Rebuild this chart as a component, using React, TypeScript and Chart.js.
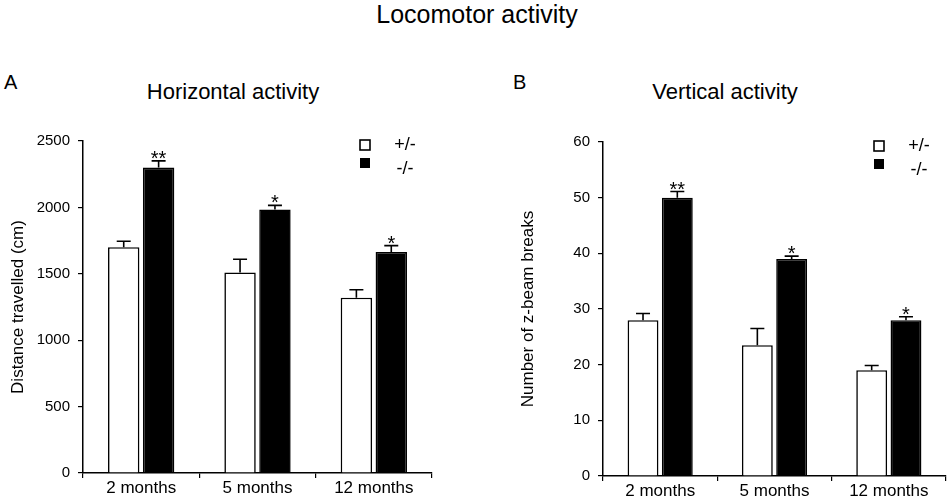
import React, { useEffect, useRef } from 'react';
import { Chart, registerables } from 'chart.js';

Chart.register(...registerables);

const FONT = '"Liberation Sans", Arial, Helvetica, sans-serif';

const categories = ['2 months', '5 months', '12 months'];
const groupLabels = ['+/-', '-/-'];

// Panel A: horizontal activity (cm)
const horizHet = [1700, 1510, 1320];
const horizHetErr = [45, 100, 60];
const horizKo = [2300, 1985, 1665];
const horizKoErr = [50, 30, 47];
const horizStars = ['**', '*', '*'];
const horizTicks = { min: 0, max: 2500, step: 500 };

// Panel B: vertical activity (z-beam breaks)
const vertHet = [28, 23.5, 19];
const vertHetErr = [1.2, 3, 0.85];
const vertKo = [50, 39, 28];
const vertKoErr = [1.1, 0.5, 0.6];
const vertStars = ['**', '*', '*'];
const vertTicks = { min: 0, max: 60, step: 10 };

function makeOverlay(errs: number[][], stars: string[]) {
  return {
    id: 'overlay',
    afterDatasetsDraw(chart: any) {
      const ctx = chart.ctx;
      const y = chart.scales.y;
      ctx.save();
      ctx.strokeStyle = '#000';
      ctx.fillStyle = '#000';
      ctx.lineWidth = 1.6;
      chart.data.datasets.forEach((ds: any, di: number) => {
        const meta = chart.getDatasetMeta(di);
        meta.data.forEach((bar: any, i: number) => {
          const v = ds.data[i] as number;
          const top = y.getPixelForValue(v + errs[di][i]);
          const x = bar.x;
          ctx.beginPath();
          ctx.moveTo(x, bar.y);
          ctx.lineTo(x, top);
          ctx.moveTo(x - 7, top);
          ctx.lineTo(x + 7, top);
          ctx.stroke();
          if (di === 1 && stars[i]) {
            ctx.font = `20px ${FONT}`;
            ctx.textAlign = 'center';
            ctx.textBaseline = 'alphabetic';
            ctx.fillText(stars[i], x, top + 4);
          }
        });
      });
      // legend
      const { right, top } = chart.chartArea;
      const sx = right - 72;
      ctx.lineWidth = 1.6;
      ctx.fillStyle = '#fff';
      ctx.fillRect(sx, top - 1, 10, 10);
      ctx.strokeRect(sx, top - 1, 10, 10);
      ctx.fillStyle = '#000';
      ctx.fillRect(sx, top + 17, 10, 10);
      ctx.font = `18px ${FONT}`;
      ctx.textAlign = 'center';
      ctx.textBaseline = 'middle';
      ctx.fillText(chart.data.datasets[0].label, right - 27, top + 4);
      ctx.fillText(chart.data.datasets[1].label, right - 27, top + 28);
      ctx.restore();
    },
  };
}

function makeConfig(
  het: number[], hetErr: number[], ko: number[], koErr: number[], stars: string[],
  ticks: { min: number; max: number; step: number }, title: string,
  padRight: number, yWidth: number, xHeight: number, titlePad: number
): any {
  return {
    type: 'bar',
    data: {
      labels: categories,
      datasets: [
        {
          label: groupLabels[0], data: het, backgroundColor: '#fff', borderColor: '#000',
          borderWidth: 1.6, categoryPercentage: 0.6, barPercentage: 0.9,
        },
        {
          label: groupLabels[1], data: ko, backgroundColor: '#000', borderColor: '#000',
          borderWidth: 1.6, categoryPercentage: 0.6, barPercentage: 0.9,
        },
      ],
    },
    options: {
      responsive: false,
      animation: false,
      devicePixelRatio: 1,
      layout: { padding: { top: 0, right: padRight, left: 0, bottom: 0 } },
      plugins: { legend: { display: false }, tooltip: { enabled: false } },
      scales: {
        x: {
          grid: { display: true, drawOnChartArea: false, drawTicks: true, tickLength: 5, color: '#000', lineWidth: 1.2, offset: true },
          border: { display: true, color: '#000', width: 1.5 },
          ticks: { color: '#000', font: { family: FONT, size: 17 }, padding: 0 },
          afterFit: (s: any) => { s.height = xHeight; },
        },
        y: {
          min: ticks.min, max: ticks.max,
          ticks: {
            stepSize: ticks.step, color: '#000', font: { family: FONT, size: 15 }, padding: 8,
            callback: (v: any) => String(v),
          },
          grid: { display: true, drawOnChartArea: false, drawTicks: true, tickLength: 5, color: '#000', lineWidth: 1.2 },
          border: { display: true, color: '#000', width: 1.5 },
          title: { display: true, text: title, color: '#000', font: { family: FONT, size: 17 }, padding: { top: titlePad, bottom: 0 } },
          afterFit: (s: any) => { s.width = yWidth; },
        },
      },
    },
    plugins: [makeOverlay([hetErr, koErr], stars)],
  };
}

function Panel({ config, left, top, w, h }: { config: () => any; left: number; top: number; w: number; h: number }) {
  const ref = useRef<HTMLCanvasElement>(null);
  useEffect(() => {
    const chart = new Chart(ref.current as HTMLCanvasElement, config());
    return () => chart.destroy();
  }, []);
  return (
    <canvas
      ref={ref}
      width={w}
      height={h}
      style={{ position: 'absolute', left, top, width: w, height: h }}
    />
  );
}

const textStyle = (size: number): React.CSSProperties => ({
  position: 'absolute',
  fontFamily: FONT,
  fontSize: size,
  lineHeight: `${size}px`,
  color: '#000',
  whiteSpace: 'nowrap',
});

export default function App() {
  return (
    <div style={{ position: 'absolute', left: 0, top: 0, width: 950, height: 500, background: '#fff', overflow: 'hidden' }}>
      <div style={{ ...textStyle(25), left: 0, width: 954, textAlign: 'center', top: 1.5 }}>Locomotor activity</div>
      <div style={{ ...textStyle(20), left: 4, top: 72 }}>A</div>
      <div style={{ ...textStyle(22), left: 133, width: 200, textAlign: 'center', top: 81 }}>Horizontal activity</div>
      <div style={{ ...textStyle(20), left: 513, top: 72 }}>B</div>
      <div style={{ ...textStyle(22), left: 625, width: 200, textAlign: 'center', top: 81 }}>Vertical activity</div>
      <Panel
        left={0} top={124} w={475} h={376}
        config={() => makeConfig(horizHet, horizHetErr, horizKo, horizKoErr, horizStars, horizTicks,
          'Distance travelled (cm)', 43, 83, 27, 8)}
      />
      <Panel
        left={480} top={125} w={470} h={375}
        config={() => makeConfig(vertHet, vertHetErr, vertKo, vertKoErr, vertStars, vertTicks,
          'Number of z-beam breaks', 4, 123, 24, 38)}
      />
    </div>
  );
}
